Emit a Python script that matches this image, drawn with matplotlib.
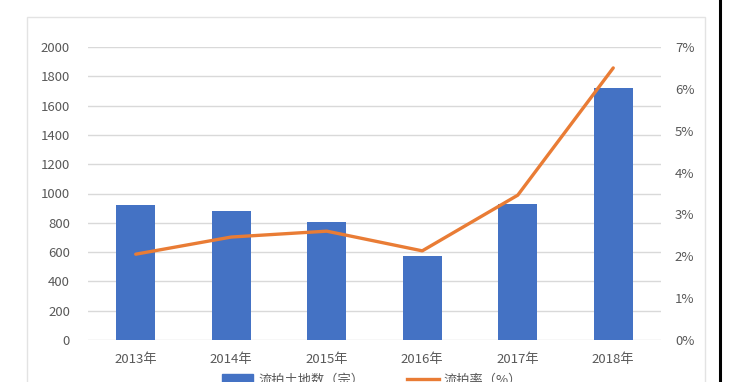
import matplotlib
matplotlib.use("Agg")
import matplotlib.pyplot as plt
from matplotlib.patches import Rectangle
from matplotlib.lines import Line2D

plt.rcParams['font.family'] = ['Noto Sans CJK SC', 'DejaVu Sans']

years = ["2013年", "2014年", "2015年", "2016年", "2017年", "2018年"]
unsold_counts = [921, 880, 805, 573, 928, 1720]
unsold_rate = [2.05, 2.46, 2.60, 2.13, 3.46, 6.50]
left_ticks = [0, 200, 400, 600, 800, 1000, 1200, 1400, 1600, 1800, 2000]
right_ticks = [0, 1, 2, 3, 4, 5, 6, 7]
bar_label = "流拍土地数（宗）"
line_label = "流拍率（%）"

W, H = 746, 382
fig = plt.figure(figsize=(W / 100, H / 100), dpi=100)
fig.patch.set_facecolor("white")

# outer frame and black edge line
fig.add_artist(Rectangle((27 / W, -0.1), (705 - 27) / W, 1.1 - 17 / H,
                         transform=fig.transFigure, fill=False,
                         edgecolor="#E3E3E3", lw=1.0))
fig.add_artist(Line2D([720 / W, 720 / W], [0, 1], transform=fig.transFigure,
                      color="black", lw=2.2))

ax = fig.add_axes([88 / W, (H - 340) / H, (661 - 88) / W, (340 - 47) / H])
x = list(range(len(years)))
ax.bar(x, unsold_counts, width=0.41, color="#4472C4", zorder=2, label=bar_label)
ax.set_xlim(-0.5, 5.5)
ax.set_ylim(0, 2000)
ax.set_yticks(left_ticks)
ax.set_xticks(x)
ax.set_xticklabels(years)
ax.grid(axis="y", color="#D9D9D9", lw=1.0, zorder=0)
ax.set_axisbelow(True)
for s in ax.spines.values():
    s.set_visible(False)
ax.tick_params(axis="both", length=0, colors="#595959", labelsize=9.5)
ax.tick_params(axis="y", pad=13)
ax.tick_params(axis="x", pad=9)

ax2 = ax.twinx()
ax2.plot(x, unsold_rate, color="#E97C35", lw=2.4, zorder=3, label=line_label,
         solid_joinstyle="round", solid_capstyle="round")
ax2.set_ylim(0, 7)
ax2.set_yticks(right_ticks)
ax2.set_yticklabels([f"{t}%" for t in right_ticks])
for s in ax2.spines.values():
    s.set_visible(False)
ax2.tick_params(axis="y", length=0, colors="#595959", labelsize=9.5, pad=10)

handles = [Rectangle((0, 0), 1, 1, color="#4472C4"),
           Line2D([], [], color="#E97C35", lw=2.4)]
fig.legend(handles, [bar_label, line_label], loc="center",
           bbox_to_anchor=(372 / W, 0.005), ncol=2, frameon=False,
           fontsize=9.5, labelcolor="#595959", handlelength=2.4,
           columnspacing=3.2, handletextpad=0.4)

fig.savefig("out.png", dpi=100)
